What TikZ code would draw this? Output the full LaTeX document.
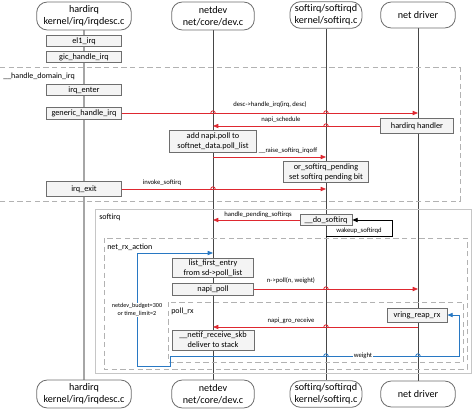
\documentclass[tikz,border=0pt]{standalone}
\usepackage{fontspec}
\setmainfont{Carlito}
\usetikzlibrary{arrows.meta,backgrounds}
\definecolor{ared}{RGB}{222,40,48}
\definecolor{ablue}{RGB}{40,120,195}
\definecolor{bxline}{RGB}{110,110,110}
\tikzset{
  hdr/.style={draw=bxline, line width=0.6pt, fill=white, rounded corners=8pt, align=center, inner sep=0pt,
    font=\fontsize{7.6}{9.2}\selectfont},
  bx/.style={draw=bxline, line width=0.5pt, fill=gray!9, align=center, inner sep=0pt,
    font=\fontsize{6.2}{7.6}\selectfont},
  lbl/.style={font=\fontsize{5}{6}\selectfont, inner sep=0.8pt},
  frlbl/.style={font=\fontsize{6}{7}\selectfont, anchor=west, inner sep=0pt},
  life/.style={draw=gray!55!black, line width=0.7pt},
  rarr/.style={draw=ared, line width=0.6pt, -{Triangle[length=4pt,width=3.2pt]}},
  barr/.style={draw=ablue, line width=0.6pt, -{Triangle[length=4pt,width=3.2pt]}},
  karr/.style={draw=black, line width=0.6pt, -{Triangle[length=4pt,width=3.2pt]}},
  dframe/.style={draw=gray!60, line width=0.7pt, dash pattern=on 4pt off 2.5pt},
  jmp/.style={line width=0.6pt},
}
\newcommand{\linejump}[3]{\draw[jmp,#3] (#1-2.2,#2) arc[start angle=180,end angle=360,radius=2.2];}
\begin{document}
\begin{tikzpicture}[x=0.75pt,y=-0.75pt]
\useasboundingbox (0,0) rectangle (474,410);
% headers and footers
\node[hdr, minimum width=71pt, minimum height=21pt] (h1) at (84,16) {hardirq\\kernel/irq/irqdesc.c};
\node[hdr, minimum width=62pt, minimum height=21pt] (h2) at (213,16) {netdev\\net/core/dev.c};
\node[hdr, minimum width=54pt, minimum height=20pt] (h3) at (326,15) {softirq/softirqd\\kernel/softirq.c};
\node[hdr, minimum width=56pt, minimum height=19.5pt] (h4) at (418,15) {net driver};
\node[hdr, minimum width=71pt, minimum height=21pt] (f1) at (84,394) {hardirq\\kernel/irq/irqdesc.c};
\node[hdr, minimum width=62pt, minimum height=21pt] (f2) at (213,394) {netdev\\net/core/dev.c};
\node[hdr, minimum width=54pt, minimum height=20pt] (f3) at (326,394) {softirq/softirqd\\kernel/softirq.c};
\node[hdr, minimum width=56pt, minimum height=19.5pt] (f4) at (418,394) {net driver};
% frames
\draw[dframe] (0,67) -- (460,67) -- (460,201) -- (0,201);
\node[frlbl] (fl1) at (3,76) {\_\_handle\_domain\_irq};
\draw[draw=gray!45, line width=0.7pt] (95,209) rectangle (471,373);
\node[frlbl] (fl2) at (99,217) {softirq};
\draw[dframe] (104,238) rectangle (467,369);
\node[frlbl] (fl3) at (107,247) {net\_rx\_action};
\draw[dframe] (168,302) rectangle (463,362);
\node[frlbl] (fl4) at (171,311) {poll\_rx};
% lifelines
\begin{scope}[on background layer]
\draw[life, draw=gray!70, line width=1.1pt] (h1) -- (f1);
\draw[life] (h2) -- (f2);
\draw[life] (h3) -- (f3);
\draw[life] (h4) -- (f4);
\end{scope}
% boxes
\node[bx, minimum width=56pt, minimum height=8.3pt] (el1) at (84,41) {el1\_irq};
\node[bx, minimum width=56pt, minimum height=8.3pt] (gic) at (84,57) {gic\_handle\_irq};
\node[bx, minimum width=56pt, minimum height=8.3pt] (ien) at (84,90) {irq\_enter};
\node[bx, minimum width=56pt, minimum height=9pt] (gen) at (84,113) {generic\_handle\_irq};
\node[bx, minimum width=55pt, minimum height=11pt] (hh) at (417,126) {hardirq handler};
\node[bx, minimum width=65pt, minimum height=16.5pt] (addn) at (213,141) {add napi.poll to\\softnet\_data.poll\_list};
\node[bx, minimum width=64pt, minimum height=16pt] (orsp) at (326,172) {or\_softirq\_pending\\set softirq pending bit};
\node[bx, minimum width=56pt, minimum height=11pt] (iex) at (84,189) {irq\_exit};
\node[bx, minimum width=39pt, minimum height=7.8pt] (dsi) at (326,220) {\_\_do\_softirq};
\node[bx, minimum width=61pt, minimum height=14.5pt] (lfe) at (213,268) {list\_first\_entry\\from sd->poll\_list};
\node[bx, minimum width=61pt, minimum height=9pt] (npp) at (213,289) {napi\_poll};
\node[bx, minimum width=45pt, minimum height=10.5pt] (vrr) at (417,315) {vring\_reap\_rx};
\node[bx, minimum width=61.5pt, minimum height=15pt] (nrs) at (213,340) {\_\_netif\_receive\_skb\\deliver to stack};
% coordinates
\coordinate (r1) at (213,157);
\coordinate (r2) at (326,157);
\coordinate (w1) at (326,236);
\coordinate (w2) at (392,236);
\coordinate (g1) at (418,327);
\coordinate (g2) at (213,327);
\coordinate (wt1) at (170,356);
\coordinate (wt2) at (459,356);
\coordinate (b1) at (170,366);
\coordinate (b2) at (137,366);
\coordinate (b3) at (137,253);
\coordinate (b4) at (213,253);
% messages
\draw[rarr] (gen.east) -- (gen.east -| h4.south);
\linejump{213}{113}{ared}\linejump{326}{113}{ared}
\node[lbl] (t1) at (270,105) {desc->handle\_irq(irq, desc)};
\draw[rarr] (hh.west) -- (hh.west -| h2.south);
\linejump{326}{126}{ared}
\node[lbl] (t2) at (281,120) {napi\_schedule};
\draw[rarr] (r1) -- (r2);
\node[lbl] (t3) at (288,151) {\_\_raise\_softirq\_irqoff};
\draw[rarr] (iex.east) -- (iex.east -| h3.south);
\linejump{213}{189}{ared}
\node[lbl] (t4) at (162,183) {invoke\_softirq};
\draw[rarr] (dsi.west) -- (dsi.west -| h2.south);
\node[lbl] (t5) at (258,215) {handle\_pending\_softirqs};
\draw[karr] (w1) -- (w2) |- (dsi.east);
\node[lbl] (t6) at (359,231) {wakeup\_softirqd};
\draw[rarr] (npp.east) -- (npp.east -| h4.south);
\linejump{326}{289}{ared}
\node[lbl] (t7) at (291,281) {n->poll(n, weight)};
\draw[rarr] (g1) -- (g2);
\linejump{326}{327}{ared}
\node[lbl] (t8) at (291,321) {napi\_gro\_receive};
\draw[barr] (wt1) -- (wt2) |- (vrr.east);
\linejump{326}{356}{ablue}\linejump{418}{356}{ablue}
\node[lbl, fill=white, inner sep=0.5pt] (t9) at (363,356) {weight};
\draw[barr] (wt1) -- (b1) -- (b2) -- (b3) -- (b4);
\node[lbl, fill=white, align=center, font=\fontsize{4.6}{5.8}\selectfont] (t10) at (137,310) {netdev\_budget=300\\or time\_limit=2};
\end{tikzpicture}
\end{document}
